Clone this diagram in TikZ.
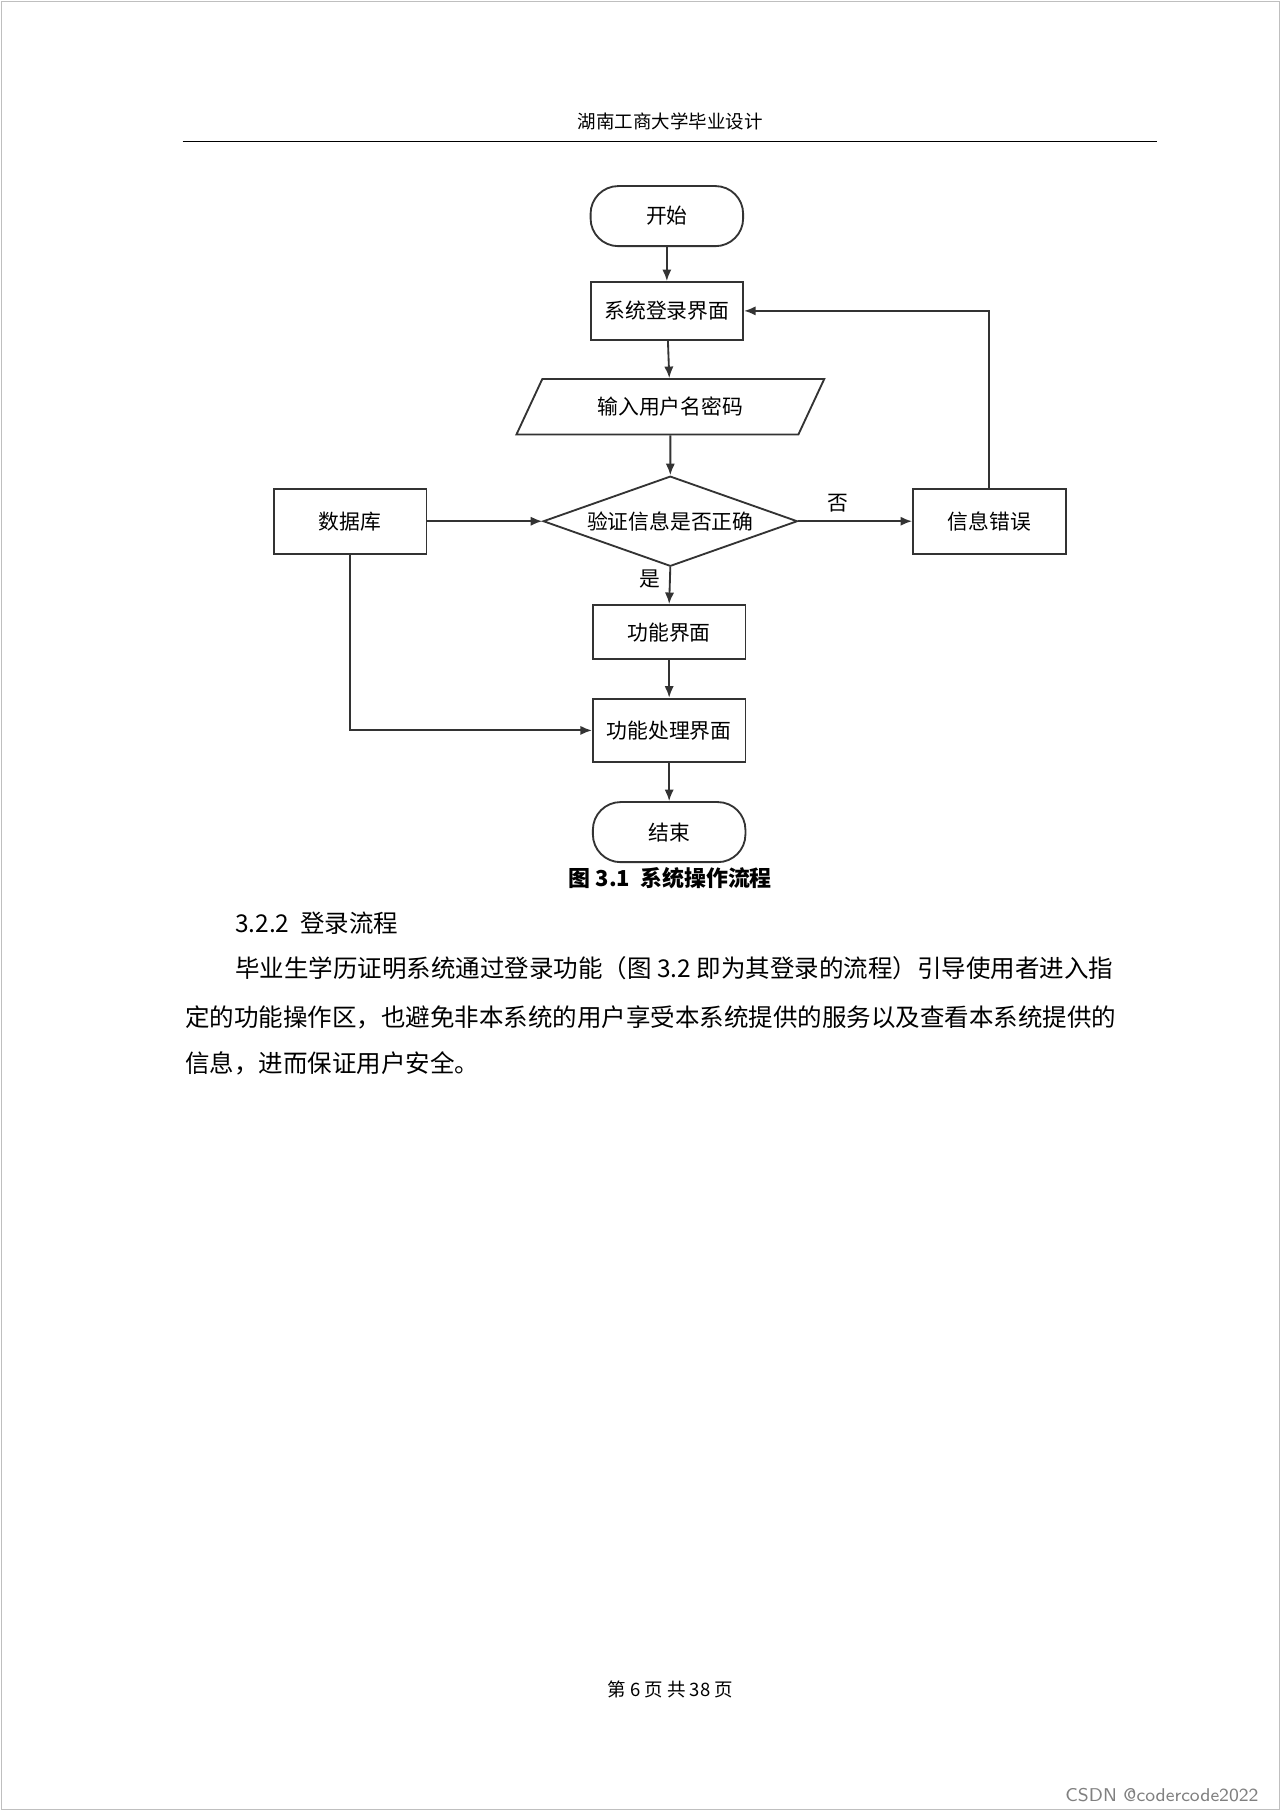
\documentclass[tikz,border=0pt]{standalone}
\usepackage{fontspec}
\setmainfont{Liberation Serif}
\newfontfamily\cjk{Noto Sans CJK SC}
\usetikzlibrary{shapes.geometric,arrows.meta}
\tikzset{
 box/.style={draw=black!80,thick,minimum width=66pt,minimum height=25pt,font=\cjk\fontsize{9}{10}\selectfont,inner sep=1pt},
 term/.style={box,rounded corners=12pt,minimum height=26pt},
 io/.style={draw=black!80,thick,trapezium,trapezium left angle=65,trapezium right angle=115,minimum height=24pt,minimum width=118pt,font=\cjk\fontsize{9}{10}\selectfont},
 dec/.style={draw=black!80,thick,diamond,aspect=2.8,minimum width=110pt,minimum height=39pt,inner sep=0pt,font=\cjk\fontsize{9}{10}\selectfont},
 arr/.style={draw=black!80,thick,-{Latex[length=5pt,width=4pt]}},
 lab/.style={font=\cjk\fontsize{9}{10}\selectfont},
 body/.style={anchor=west,font=\cjk\fontsize{10.6}{12}\selectfont,inner sep=0pt}
}
\begin{document}
\begin{tikzpicture}[x=0.5pt,y=-0.5pt]
\useasboundingbox (0,0) rectangle (1108,1567);
\draw[black!25] (1,1) rectangle (1107,1566);
\node[font=\cjk\fontsize{8}{9}\selectfont] (hdr) at (580,105) {湖南工商大学毕业设计};
\draw[black,thin] (158,122) -- (1001,122);
\node[term] (start) at (577,187) {开始};
\node[box] (login) at (577,269) {系统登录界面};
\node[io] (input) at (580,352) {输入用户名密码};
\node[dec] (check) at (580,451) {验证信息是否正确};
\node[box,minimum height=28pt] (db) at (303,451) {数据库};
\node[box,minimum height=28pt] (err) at (856,451) {信息错误};
\node[box,minimum height=23.5pt] (func) at (579,547) {功能界面};
\node[box,minimum height=27.5pt] (proc) at (579,632) {功能处理界面};
\node[term] (end) at (579,720) {结束};
\draw[arr] (start) -- (login);
\draw[arr] (login) -- (input);
\draw[arr] (input) -- (check);
\draw[arr] (check.south) -- (func.north);
\draw[arr] (func) -- (proc);
\draw[arr] (proc) -- (end);
\draw[arr] (db) -- (check);
\draw[arr] (check) -- (err);
\draw[arr] (err.north) |- (login.east);
\draw[arr] (db.south) |- (proc.west);
\node[lab] (no) at (725,435) {否};
\node[lab] (yes) at (562,501) {是};
\node[font=\cjk\bfseries\fontsize{9.5}{11}\selectfont] (cap) at (580,760) {图 3.1\ \ 系统操作流程};
\node[body] (sec) at (203,799) {3.2.2\ \ 登录流程};
\node[body] (l1) at (203,838) {毕业生学历证明系统通过登录功能（图 3.2 即为其登录的流程）引导使用者进入指};
\node[body] (l2) at (160,880) {定的功能操作区，也避免非本系统的用户享受本系统提供的服务以及查看本系统提供的};
\node[body] (l3) at (160,920) {信息，进而保证用户安全。};
\node[font=\cjk\fontsize{8}{9}\selectfont] (ftr) at (580,1462) {第\ 6\ 页\ 共\ 38\ 页};
\node[font=\sffamily\fontsize{8}{9}\selectfont,text=black!50,anchor=east] (wm) at (1096,1553) {CSDN @codercode2022};
\end{tikzpicture}
\end{document}
